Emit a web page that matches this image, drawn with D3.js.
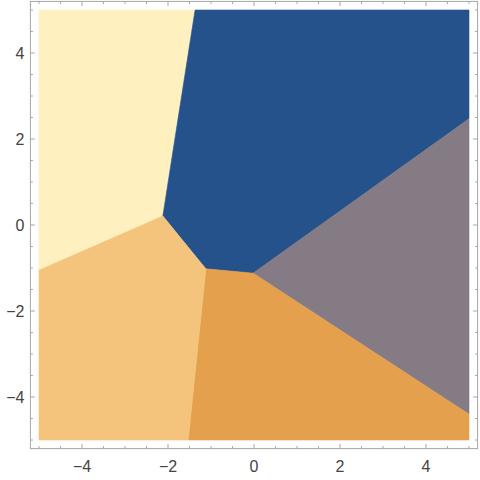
<!DOCTYPE html>
<html>
<head>
<meta charset="utf-8">
<script src="https://cdn.jsdelivr.net/npm/d3@7"></script>
<style>
  body { margin: 0; background: #fff; }
  text { font-family: "Liberation Sans", Arial, sans-serif; }
</style>
</head>
<body>
<div id="chart"></div>
<script>
// region boundaries, in data coordinates
var regionNames = ["cream", "blue", "gray", "darkOrange", "lightOrange"];
var regionColors = ["#fff0c0", "#25528a", "#847b85", "#e5a04d", "#f4c47c"];
var regionVertices = [
  [[-5, 5], [-1.37, 5], [-2.12, 0.21], [-5, -1.05]],
  [[-1.37, 5], [5, 5], [5, 2.47], [-0.02, -1.12], [-1.12, -1.02], [-2.12, 0.21]],
  [[5, 2.47], [5, -4.40], [-0.02, -1.12]],
  [[-0.02, -1.12], [5, -4.40], [5, -5], [-1.53, -5], [-1.12, -1.02]],
  [[-5, -1.05], [-2.12, 0.21], [-1.12, -1.02], [-1.53, -5], [-5, -5]]
];
var majorTicks = [-4, -2, 0, 2, 4];
var minorTicks = [-5, -4.5, -3.5, -3, -2.5, -1.5, -1, -0.5, 0.5, 1, 1.5, 2.5, 3, 3.5, 4.5, 5];

var width = 480, height = 480;
var svg = d3.select("#chart").append("svg")
  .attr("width", width)
  .attr("height", height);

var x = d3.scaleLinear().domain([-5, 5]).range([39, 469]);
var y = d3.scaleLinear().domain([-5, 5]).range([440, 10]);
var pad = 0.2;

// regions
var line = d3.line().x(d => x(d[0])).y(d => y(d[1]));
svg.selectAll(".region")
  .data(regionVertices)
  .enter()
  .append("path")
  .attr("class", "region")
  .attr("d", d => line(d) + "Z")
  .attr("fill", (d, i) => regionColors[i])
  .attr("stroke", (d, i) => regionColors[i])
  .attr("stroke-width", 0.6);

// frame
var x0 = x(-5 - pad), x1 = x(5 + pad), y0 = y(-5 - pad), y1 = y(5 + pad);
svg.append("rect")
  .attr("x", x0).attr("y", y1)
  .attr("width", x1 - x0).attr("height", y0 - y1)
  .attr("fill", "none")
  .attr("stroke", "#a6a6a6")
  .attr("stroke-width", 1);

function ticks(vals, len) {
  vals.forEach(function (v) {
    // bottom & top
    svg.append("line").attr("x1", x(v)).attr("x2", x(v)).attr("y1", y0).attr("y2", y0 - len)
      .attr("stroke", "#a6a6a6");
    svg.append("line").attr("x1", x(v)).attr("x2", x(v)).attr("y1", y1).attr("y2", y1 + len)
      .attr("stroke", "#a6a6a6");
    // left & right
    svg.append("line").attr("y1", y(v)).attr("y2", y(v)).attr("x1", x0).attr("x2", x0 + len)
      .attr("stroke", "#a6a6a6");
    svg.append("line").attr("y1", y(v)).attr("y2", y(v)).attr("x1", x1).attr("x2", x1 - len)
      .attr("stroke", "#a6a6a6");
  });
}
ticks(majorTicks, 4.5);
ticks(minorTicks, 2.5);

var fmt = d => d < 0 ? "\u2212" + Math.abs(d) : String(d);

svg.selectAll(".xlab")
  .data(majorTicks)
  .enter()
  .append("text")
  .attr("x", d => x(d))
  .attr("y", y0 + 23)
  .attr("text-anchor", "middle")
  .attr("font-size", 16)
  .attr("fill", "#444")
  .text(fmt);

svg.selectAll(".ylab")
  .data(majorTicks)
  .enter()
  .append("text")
  .attr("x", x0 - 6)
  .attr("y", d => y(d))
  .attr("dy", "0.35em")
  .attr("text-anchor", "end")
  .attr("font-size", 16)
  .attr("fill", "#444")
  .text(fmt);
</script>
</body>
</html>
